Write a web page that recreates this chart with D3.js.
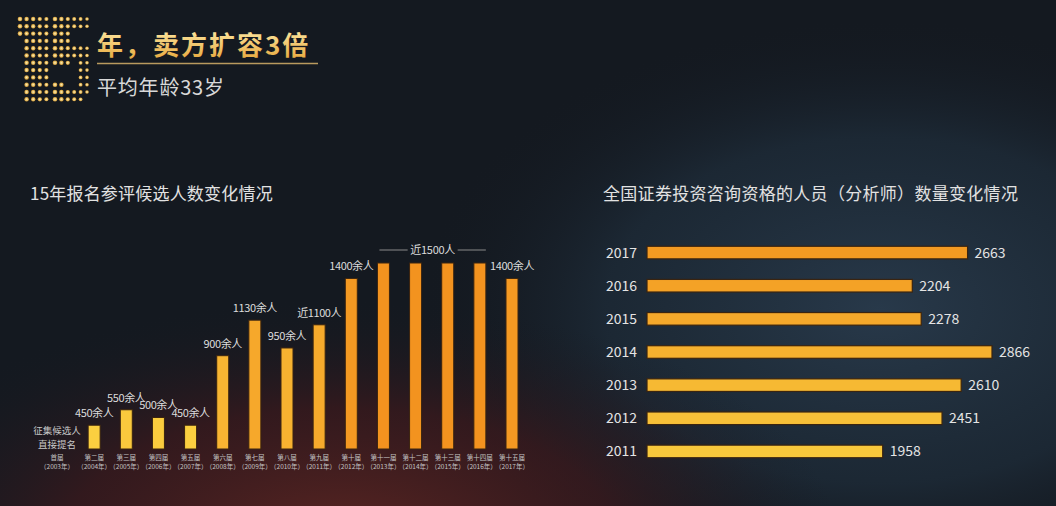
<!DOCTYPE html>
<meta charset="utf-8">
<script src="https://d3js.org/d3.v7.min.js"></script>
<style>
  body { margin: 0; background: #151a22; }
  text { font-family: "Noto Sans CJK SC", "Noto Sans", sans-serif; }
</style>
<div id="chart"></div>
<script>

// left chart: candidates per session
var sessions = ["首届", "第二届", "第三届", "第四届", "第五届", "第六届", "第七届", "第八届",
                "第九届", "第十届", "第十一届", "第十二届", "第十三届", "第十四届", "第十五届"];
var sessionYears = ["（2003年）", "（2004年）", "（2005年）", "（2006年）", "（2007年）", "（2008年）",
                    "（2009年）", "（2010年）", "（2011年）", "（2012年）", "（2013年）", "（2014年）",
                    "（2015年）", "（2016年）", "（2017年）"];
var candidates = [null, 450, 550, 500, 450, 900, 1130, 950, 1100, 1400, 1500, 1500, 1500, 1500, 1400];
var candidateLabels = ["", "450余人", "550余人", "500余人", "450余人", "900余人", "1130余人", "950余人",
                       "近1100人", "1400余人", "", "", "", "", "1400余人"];
var firstNote = ["征集候选人", "直接提名"];
var groupLabel = "近1500人";

// right chart: analysts
var years = ["2017", "2016", "2015", "2014", "2013", "2012", "2011"];
var analysts = [2663, 2204, 2278, 2866, 2610, 2451, 1958];

var W = 1056, H = 506;

var svg = d3.select("#chart")
  .append("svg")
    .attr("width", W)
    .attr("height", H);

var defs = svg.append("defs");

// background glows
var g1 = defs.append("radialGradient").attr("id", "glowRed")
  .attr("cx", 0.5).attr("cy", 0.5).attr("r", 0.5);
g1.append("stop").attr("offset", "0%").attr("stop-color", "#5e2622").attr("stop-opacity", 0.95);
g1.append("stop").attr("offset", "55%").attr("stop-color", "#42191c").attr("stop-opacity", 0.65);
g1.append("stop").attr("offset", "100%").attr("stop-color", "#151a22").attr("stop-opacity", 0);

var g2 = defs.append("radialGradient").attr("id", "glowTeal")
  .attr("cx", 0.5).attr("cy", 0.5).attr("r", 0.5);
g2.append("stop").attr("offset", "0%").attr("stop-color", "#28394a").attr("stop-opacity", 1);
g2.append("stop").attr("offset", "60%").attr("stop-color", "#1f2e3c").attr("stop-opacity", 0.7);
g2.append("stop").attr("offset", "100%").attr("stop-color", "#151a22").attr("stop-opacity", 0);

var gold = defs.append("linearGradient").attr("id", "goldText")
  .attr("x1", 0).attr("y1", 0).attr("x2", 0).attr("y2", 1);
gold.append("stop").attr("offset", "0%").attr("stop-color", "#fff0b0");
gold.append("stop").attr("offset", "100%").attr("stop-color", "#e6a436");

var dotGrad = defs.append("radialGradient").attr("id", "dotGrad");
dotGrad.append("stop").attr("offset", "0%").attr("stop-color", "#fff2b8");
dotGrad.append("stop").attr("offset", "100%").attr("stop-color", "#d49a30");

svg.append("rect").attr("width", W).attr("height", H).attr("fill", "#141920");
svg.append("ellipse").attr("cx", 880).attr("cy", 310).attr("rx", 460).attr("ry", 290)
  .attr("fill", "url(#glowTeal)");
svg.append("ellipse").attr("cx", 340).attr("cy", 540).attr("rx", 500).attr("ry", 240)
  .attr("fill", "url(#glowRed)");

// ---- header: dotted "15" logo ----
var one = ["11111",
           "11111",
           "11111",
           "01111",
           "01111",
           "01111",
           "01111",
           "01111",
           "01111",
           "01111",
           "01111",
           "01111"];
var five = ["111111",
            "111111",
            "111000",
            "111000",
            "111111",
            "111111",
            "111011",
            "000011",
            "000011",
            "110011",
            "111111",
            "111110"];
var logo = svg.append("g");
function drawDigit(pattern, x0, xStep, shrink) {
  pattern.forEach(function(row, r) {
    row.split("").forEach(function(c, k) {
      if (c !== "1") return;
      logo.append("circle")
        .attr("cx", x0 + k * xStep)
        .attr("cy", 19 + r * 7.3)
        .attr("r", 2.3 - k * shrink)
        .attr("fill", "url(#dotGrad)");
    });
  });
}
drawDigit(one, 20, 6.6, 0.06);
drawDigit(five, 55, 6.4, 0.1);

svg.append("text")
  .attr("x", 97).attr("y", 55)
  .attr("font-size", 26).attr("font-weight", "bold")
  .attr("letter-spacing", 2)
  .attr("fill", "url(#goldText)")
  .text("年，卖方扩容3倍");
svg.append("line")
  .attr("x1", 97).attr("x2", 318).attr("y1", 63.5).attr("y2", 63.5)
  .attr("stroke", "#b99a5e").attr("stroke-width", 1.5);
svg.append("text")
  .attr("x", 97).attr("y", 95)
  .attr("font-size", 20)
  .attr("letter-spacing", 0.8)
  .attr("fill", "#d8d8d8")
  .text("平均年龄33岁");

// ---- titles ----
svg.append("text").attr("x", 30).attr("y", 200)
  .attr("font-size", 17).attr("letter-spacing", 0.2).attr("fill", "#e2e2e2")
  .text("15年报名参评候选人数变化情况");
svg.append("text").attr("x", 603).attr("y", 200)
  .attr("font-size", 17).attr("letter-spacing", 0.3).attr("fill", "#e2e2e2")
  .text("全国证券投资咨询资格的人员（分析师）数量变化情况");

// ---- left chart ----
var x = d3.scalePoint()
  .domain(sessions)
  .range([62, 512]);
var barW = 12;
var y = d3.scaleLinear()
  .domain([296, 1500])
  .range([449, 263]);
var barColor = d3.scaleLinear()
  .domain([450, 1500])
  .range(["#fbcf40", "#f3931f"]);

var left = svg.append("g");
var data = sessions.map(function(s, i) {
  return {s: s, yr: sessionYears[i], v: candidates[i], lab: candidateLabels[i]};
});

left.selectAll("rect.bar")
  .data(data.filter(function(d) { return d.v != null; }))
  .enter().append("rect")
    .attr("class", "bar")
    .attr("x", function(d) { return x(d.s) - barW / 2; })
    .attr("width", barW)
    .attr("y", function(d) { return y(d.v); })
    .attr("height", function(d) { return y.range()[0] - y(d.v); })
    .attr("fill", function(d) { return barColor(d.v); })
    .attr("stroke", "#3a2410")
    .attr("stroke-width", 1);

left.selectAll("text.val")
  .data(data.filter(function(d) { return d.lab; }))
  .enter().append("text")
    .attr("class", "val")
    .attr("x", function(d) { return x(d.s); })
    .attr("y", function(d) { return y(d.v) - 8; })
    .attr("text-anchor", "middle")
    .attr("font-size", 11)
    .attr("letter-spacing", -0.4)
    .attr("fill", "#dcdcdc")
    .text(function(d) { return d.lab; });

// first session note
left.selectAll("text.note")
  .data(firstNote)
  .enter().append("text")
    .attr("class", "note")
    .attr("x", x(sessions[0]) - 5)
    .attr("y", function(d, i) { return 434 + i * 14; })
    .attr("text-anchor", "middle")
    .attr("font-size", 9.5)
    .attr("fill", "#c8c8c8")
    .text(function(d) { return d; });

// group label for the four 1500 bars
var gx0 = x(sessions[10]) - 4, gx1 = x(sessions[13]) + 6;
var gmid = (gx0 + gx1) / 2, gy = y(1500) - 13;
left.append("text")
  .attr("x", gmid).attr("y", gy + 4)
  .attr("text-anchor", "middle")
  .attr("font-size", 11).attr("letter-spacing", -0.3).attr("fill", "#dcdcdc")
  .text(groupLabel);
left.append("line").attr("x1", gx0).attr("x2", gmid - 25).attr("y1", gy).attr("y2", gy)
  .attr("stroke", "#8a8a8a").attr("stroke-width", 1);
left.append("line").attr("x1", gmid + 25).attr("x2", gx1).attr("y1", gy).attr("y2", gy)
  .attr("stroke", "#8a8a8a").attr("stroke-width", 1);

// axis labels
var ax = left.selectAll("g.tick")
  .data(data)
  .enter().append("g")
    .attr("class", "tick")
    .attr("transform", function(d, i) { return "translate(" + (x(d.s) - (i === 0 ? 5 : 0)) + ",0)"; });
ax.append("text")
  .attr("y", 460).attr("text-anchor", "middle")
  .attr("font-size", 6.5).attr("fill", "#c4c4c4")
  .text(function(d) { return d.s; });
ax.append("text")
  .attr("y", 469).attr("text-anchor", "middle")
  .attr("font-size", 6.5).attr("fill", "#c4c4c4")
  .text(function(d) { return d.yr; });

// ---- right chart ----
var xr = d3.scaleLinear()
  .domain([0, 2866])
  .range([647, 992]);
var yr = d3.scaleBand()
  .domain(years)
  .range([236, 468])
  .paddingInner(0.62)
  .paddingOuter(0.31);
var rColor = d3.scaleLinear()
  .domain([0, years.length - 1])
  .range(["#f39a22", "#f8c83c"]);

var right = svg.append("g");
var rdata = years.map(function(yy, i) { return {y: yy, v: analysts[i], i: i}; });

right.selectAll("rect")
  .data(rdata)
  .enter().append("rect")
    .attr("x", xr(0))
    .attr("y", function(d) { return yr(d.y); })
    .attr("width", function(d) { return xr(d.v) - xr(0); })
    .attr("height", yr.bandwidth())
    .attr("fill", function(d) { return rColor(d.i); })
    .attr("stroke", "#3a2410")
    .attr("stroke-width", 1.2);

right.selectAll("text.yr")
  .data(rdata)
  .enter().append("text")
    .attr("class", "yr")
    .attr("x", 637)
    .attr("y", function(d) { return yr(d.y) + yr.bandwidth() / 2 + 5; })
    .attr("text-anchor", "end")
    .attr("font-size", 14).attr("fill", "#e4e4e4")
    .text(function(d) { return d.y; });

right.selectAll("text.num")
  .data(rdata)
  .enter().append("text")
    .attr("class", "num")
    .attr("x", function(d) { return xr(d.v) + 7; })
    .attr("y", function(d) { return yr(d.y) + yr.bandwidth() / 2 + 5; })
    .attr("font-size", 14).attr("fill", "#e4e4e4")
    .text(function(d) { return d.v; });

</script>
